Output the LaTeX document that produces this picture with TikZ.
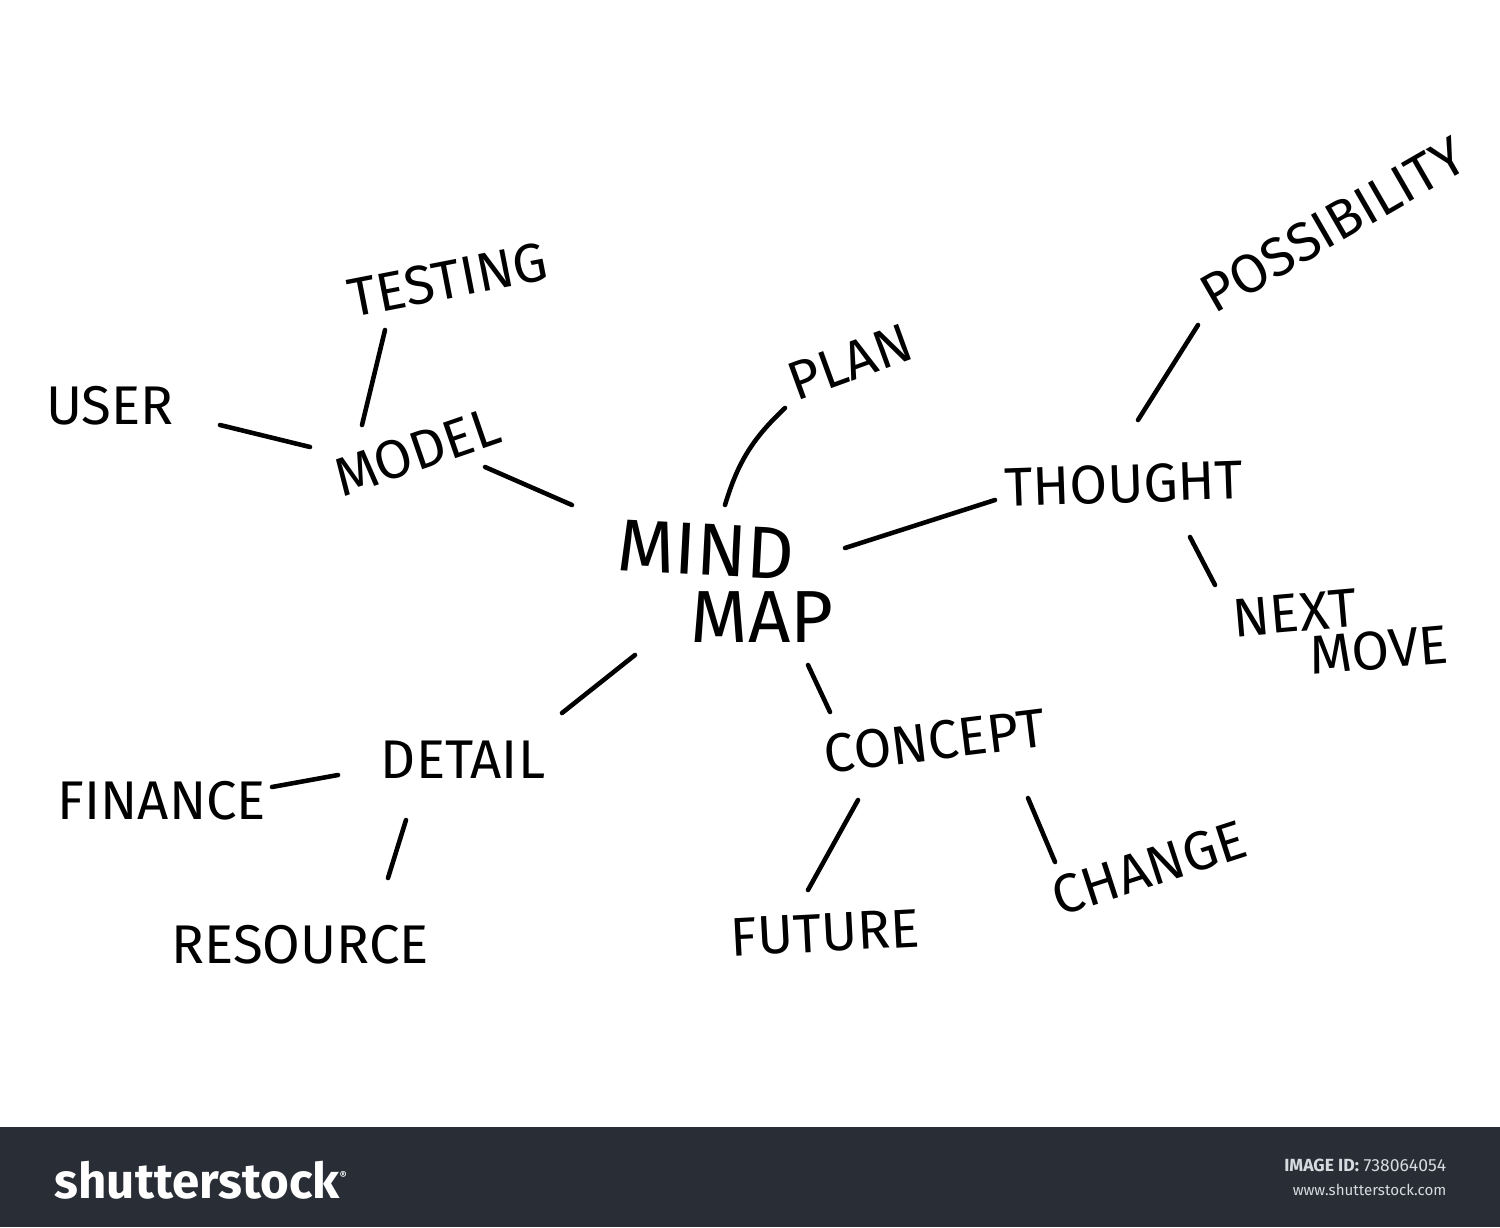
\documentclass[tikz,border=0pt]{standalone}
\usepackage{fontspec}
\setmainfont{Fira Sans}
\usetikzlibrary{calc}
\definecolor{bannerslate}{RGB}{40,45,54}
\definecolor{bannertext}{RGB}{215,218,222}
\tikzset{
  word/.style = {font=\fontsize{15.5}{17}\selectfont, inner sep=0pt},
  bigword/.style = {word, font=\fontsize{21}{24}\selectfont},
  link/.style = {line width=1.3pt, line cap=round}
}

\begin{document}
\begin{tikzpicture}[x=0.01cm,y=-0.01cm]
  \useasboundingbox (0,0) rectangle (1500,1227);
  % centre
  \node[bigword, rotate=-3] (mind) at (706,550) {MIND};
  \node[bigword] (map) at (762,617) {MAP};
  % branches
  \node[word, rotate=11] (testing) at (448,280) {TESTING};
  \node[word] (user) at (110,406) {USER};
  \node[word, rotate=19] (model) at (417,452) {MODEL};
  \node[word, rotate=20] (plan) at (850,362) {PLAN};
  \node[word, rotate=30] (possibility) at (1333,225) {POSSIBILITY};
  \node[word, rotate=2] (thought) at (1124,484) {THOUGHT};
  \node[word, rotate=5] (next) at (1295,613) {NEXT};
  \node[word, rotate=5] (move) at (1379,650) {MOVE};
  \node[word] (detail) at (463,760) {DETAIL};
  \node[word] (finance) at (162,801) {FINANCE};
  \node[word, rotate=7] (concept) at (935,741) {CONCEPT};
  \node[word] (resource) at (300,945) {RESOURCE};
  \node[word, rotate=3] (future) at (825,933) {FUTURE};
  \node[word, rotate=18] (change) at (1149,868) {CHANGE};

  \draw[link] ($(testing)+(-63,50)$) -- ($(model)+(-55,-27)$);
  \draw[link] ($(user)+(110,19)$) -- ($(model)+(-107,-5)$);
  \draw[link] ($(model)+(68,15)$) -- ($(mind)+(-134,-45)$);
  \draw[link] ($(mind)+(19,-45)$) to[bend left=15] ($(plan)+(-65,46)$);
  \draw[link] ($(mind)+(139,-2)$) -- ($(thought)+(-129,16)$);
  \draw[link] ($(thought)+(14,-64)$) -- ($(possibility)+(-135,100)$);
  \draw[link] ($(thought)+(66,53)$) -- ($(next)+(-80,-28)$);
  \draw[link] ($(map)+(-127,38)$) -- ($(detail)+(99,-47)$);
  \draw[link] ($(map)+(46,48)$) -- ($(concept)+(-105,-29)$);
  \draw[link] ($(detail)+(-125,15)$) -- ($(finance)+(110,-14)$);
  \draw[link] ($(detail)+(-57,60)$) -- ($(resource)+(88,-67)$);
  \draw[link] ($(concept)+(-77,59)$) -- ($(future)+(-17,-43)$);
  \draw[link] ($(concept)+(93,57)$) -- ($(change)+(-94,-6)$);

  % stock banner
  \fill[bannerslate] (0,1127) rectangle (1500,1227);
  \node[anchor=west, white, inner sep=0pt,
    font=\fontsize{14}{16}\selectfont\bfseries] (brand) at (54,1180) {shutterstock\textsuperscript{\fontsize{3}{3}\selectfont ®}};
  \node[anchor=east, bannertext, inner sep=0pt,
    font=\fontsize{5}{6}\selectfont] (imageid) at (1447,1165) {\textbf{IMAGE ID:} 738064054};
  \node[anchor=east, bannertext, inner sep=0pt,
    font=\fontsize{4.3}{5}\selectfont] (site) at (1447,1190) {www.shutterstock.com};
\end{tikzpicture}
\end{document}
